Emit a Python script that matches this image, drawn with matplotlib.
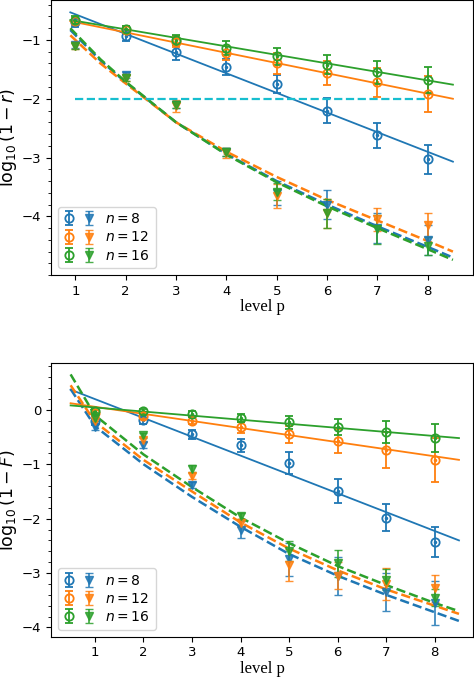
import matplotlib
matplotlib.use("Agg")
import matplotlib.pyplot as plt
from matplotlib.legend_handler import HandlerTuple
import numpy as np

p = [1, 2, 3, 4, 5, 6, 7, 8]
ns = ["8", "12", "16"]
colors = ["#1f77b4", "#ff7f0e", "#2ca02c"]

# top panel: log10(1-r)
r_circ = [[-0.70, -0.93, -1.20, -1.46, -1.75, -2.20, -2.62, -3.03],
          [-0.68, -0.83, -1.03, -1.22, -1.40, -1.56, -1.72, -1.92],
          [-0.66, -0.82, -1.00, -1.14, -1.28, -1.42, -1.55, -1.68]]
r_circ_err = [[0.08, 0.08, 0.14, 0.13, 0.16, 0.22, 0.21, 0.25],
              [0.06, 0.07, 0.09, 0.12, 0.18, 0.20, 0.25, 0.30],
              [0.06, 0.06, 0.09, 0.12, 0.14, 0.16, 0.20, 0.22]]
r_tri = [[-1.08, -1.60, -2.10, -2.90, -3.60, -3.80, -4.20, -4.40],
         [-1.10, -1.65, -2.12, -2.92, -3.65, -3.95, -4.05, -4.15],
         [-1.10, -1.65, -2.10, -2.90, -3.58, -3.95, -4.22, -4.50]]
r_tri_err = [[0.05, 0.05, 0.06, 0.07, 0.20, 0.25, 0.25, 0.25],
             [0.05, 0.05, 0.10, 0.08, 0.20, 0.25, 0.20, 0.20],
             [0.05, 0.05, 0.06, 0.07, 0.15, 0.25, 0.25, 0.15]]
r_fit_x = [0.9, 8.5]
r_fit = [[-0.53, -3.07], [-0.68, -2.00], [-0.66, -1.76]]
r_curve_x = [0.9, 1.5, 2, 3, 4, 5, 6, 7, 8, 8.5]
r_curve = [[-0.83, -1.35, -1.72, -2.40, -2.94, -3.40, -3.80, -4.17, -4.52, -4.70],
           [-0.92, -1.40, -1.74, -2.40, -2.90, -3.33, -3.72, -4.07, -4.42, -4.60],
           [-0.80, -1.33, -1.71, -2.40, -2.95, -3.42, -3.83, -4.20, -4.56, -4.74]]
r_thresh = -2.0

# bottom panel: log10(1-F)
F_circ = [[-0.20, -0.18, -0.45, -0.65, -0.98, -1.50, -1.98, -2.43],
          [-0.05, -0.12, -0.20, -0.32, -0.45, -0.58, -0.74, -0.92],
          [-0.02, -0.03, -0.08, -0.15, -0.23, -0.32, -0.41, -0.52]]
F_circ_err = [[0.08, 0.08, 0.08, 0.12, 0.20, 0.22, 0.25, 0.28],
              [0.05, 0.05, 0.06, 0.10, 0.16, 0.22, 0.33, 0.40],
              [0.04, 0.04, 0.05, 0.08, 0.12, 0.15, 0.20, 0.25]]
F_tri = [[-0.32, -0.65, -1.38, -2.20, -2.75, -3.05, -3.35, -3.55],
         [-0.20, -0.55, -1.22, -2.08, -2.85, -3.05, -3.20, -3.28],
         [-0.15, -0.47, -1.08, -1.95, -2.60, -2.82, -3.12, -3.45]]
F_tri_err = [[0.05, 0.06, 0.06, 0.15, 0.30, 0.35, 0.35, 0.40],
             [0.05, 0.05, 0.06, 0.08, 0.30, 0.25, 0.30, 0.25],
             [0.05, 0.05, 0.06, 0.06, 0.18, 0.25, 0.20, 0.15]]
F_fit_x = [0.5, 8.5]
F_fit = [[0.37, -2.40], [0.12, -0.92], [0.08, -0.52]]
F_curve_x = [0.5, 1, 2, 3, 4, 5, 6, 7, 8, 8.5]
F_curve = [[0.38, -0.30, -1.00, -1.60, -2.15, -2.65, -3.05, -3.40, -3.72, -3.88],
           [0.45, -0.22, -0.92, -1.50, -2.07, -2.55, -2.95, -3.30, -3.60, -3.75],
           [0.65, -0.10, -0.82, -1.42, -1.98, -2.45, -2.87, -3.22, -3.55, -3.70]]

fig = plt.figure(figsize=(4.74, 6.81), dpi=100)
ax1 = fig.add_axes([0.108, 0.596, 0.89, 0.404])
ax2 = fig.add_axes([0.108, 0.065, 0.89, 0.402])

def panel(ax, circ, cerr, tri, terr, fx, fit, cx, curve):
    handles = []
    for i, c in enumerate(colors):
        ax.plot(fx, fit[i], color=c, lw=1.3)
        ax.plot(cx, curve[i], color=c, lw=1.8, ls="--")
        h1 = ax.errorbar(p, circ[i], yerr=cerr[i], fmt="o", color=c, mfc="none",
                         ms=6, mew=1.3, capsize=3, elinewidth=1.3)
        ax.plot(p, circ[i], ".", color=c, ms=3)
        h2 = ax.errorbar(p, tri[i], yerr=terr[i], fmt="v", color=c, alpha=0.85,
                         ms=6, capsize=3, elinewidth=1.3)
        handles.append((h1, h2))
    ax.legend(handles, [f"$n = {n}$" for n in ns],
              handler_map={tuple: HandlerTuple(ndivide=None, pad=0.6)},
              loc="lower left", fontsize=10, handlelength=2.2,
              borderpad=0.4, labelspacing=0.3)
    ax.set_xticks(p)
    ax.minorticks_on()
    ax.tick_params(axis="x", which="minor", bottom=False)
    ax.tick_params(labelsize=9.5)
    ax.set_xlabel("level p", family="Liberation Serif", fontsize=12, labelpad=1)

panel(ax1, r_circ, r_circ_err, r_tri, r_tri_err, r_fit_x, r_fit, r_curve_x, r_curve)
ax1.plot([1, 8], [r_thresh, r_thresh], color="#17becf", ls="--", lw=1.6)
ax1.set_xlim(0.52, 8.9)
ax1.set_ylim(-5.0, -0.32)
ax1.set_yticks([-1, -2, -3, -4])
ax1.set_ylabel(r"$\log_{10}(1-r)$", fontsize=12.5, labelpad=2)

panel(ax2, F_circ, F_circ_err, F_tri, F_tri_err, F_fit_x, F_fit, F_curve_x, F_curve)
ax2.set_xlim(0.1, 8.79)
ax2.set_ylim(-4.17, 0.86)
ax2.set_yticks([0, -1, -2, -3, -4])
ax2.set_ylabel(r"$\log_{10}(1-F)$", fontsize=12.5, labelpad=2)

fig.savefig("out.png", dpi=100)
